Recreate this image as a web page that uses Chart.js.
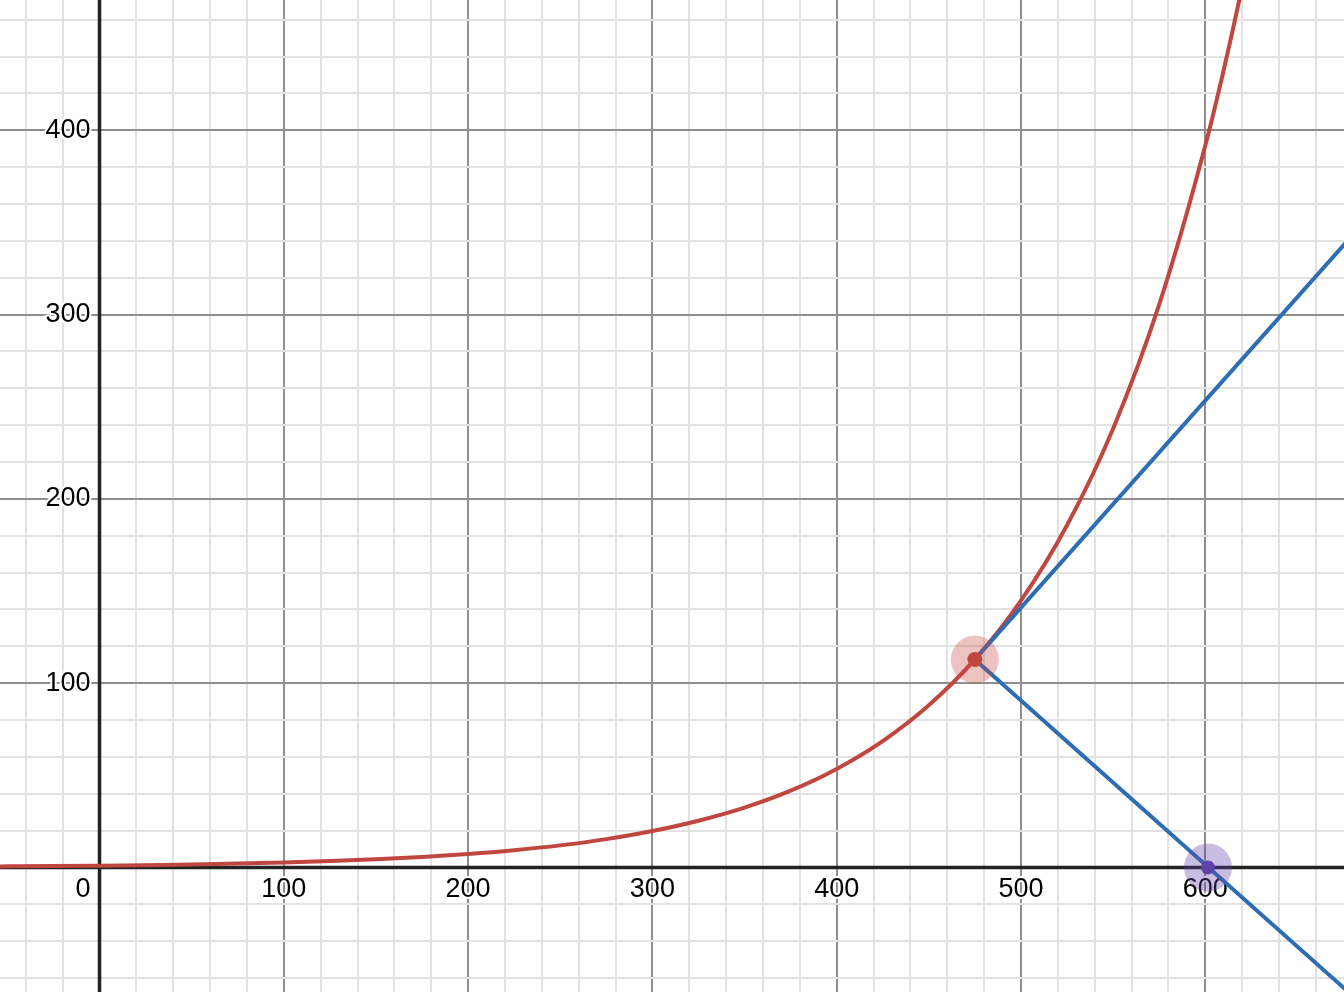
<!DOCTYPE html>
<html>
<head>
<meta charset="utf-8">
<script src="https://cdn.jsdelivr.net/npm/chart.js@4/dist/chart.umd.min.js"></script>
<style>
  html, body { margin: 0; padding: 0; background: #fff; }
  #wrap { width: 1344px; height: 992px; position: relative; }
</style>
</head>
<body>
<div id="wrap"><canvas id="c"></canvas></div>
<script>
// Curve values (red exponential curve)
const curveX = [-60, -25, 0, 25, 50, 75, 100, 125, 150, 175, 200, 225, 250, 275, 300, 325, 350, 375, 400, 425, 450, 475, 500, 525, 550, 575, 600, 610, 620, 630];
const curveY = [0.55, 0.78, 1, 1.28, 1.64, 2.11, 2.70, 3.47, 4.45, 5.70, 7.32, 9.38, 12.0, 15.4, 19.8, 25.4, 32.5, 41.7, 53.5, 68.6, 88.0, 112.9, 144.8, 185.7, 238.1, 305.4, 391.6, 432.6, 477.9, 527.9];
// Blue tangent and normal segments
const tangentX = [475, 680];
const tangentY = [112.9, 343.2];
const normalX = [475, 680];
const normalY = [112.9, -69.6];
// Marked points
const redPointX = [475];
const redPointY = [112.9];
const purplePointX = [601.5];
const purplePointY = [0];
// Tick labels
const xTickLabels = [100, 200, 300, 400, 500, 600];
const yTickLabels = [100, 200, 300, 400];
const originLabel = "0";
// Visible window
const xRange = [-54.0, 675.3];
const yRange = [-67.55, 470.7];

const zip = (xs, ys) => xs.map((x, i) => ({x: x, y: ys[i]}));

const RED = '#c0473f';
const BLUE = '#2f6db3';
const PURPLE = '#6042a6';

const labelPlugin = {
  id: 'desmosLabels',
  beforeDatasetsDraw(chart) {
    const {ctx, chartArea, scales} = chart;
    const xs = scales.x, ys = scales.y;
    const x0 = xs.getPixelForValue(0);
    const y0 = ys.getPixelForValue(0);
    ctx.save();
    // axes
    ctx.strokeStyle = '#222';
    ctx.lineWidth = 3.5;
    ctx.beginPath();
    ctx.moveTo(x0, chartArea.top); ctx.lineTo(x0, chartArea.bottom);
    ctx.moveTo(chartArea.left, y0); ctx.lineTo(chartArea.right, y0);
    ctx.stroke();
    // labels
    ctx.font = '27px "Liberation Sans", Arial, sans-serif';
    ctx.lineJoin = 'round';
    ctx.textBaseline = 'middle';
    const draw = (t, x, y) => {
      ctx.strokeStyle = '#fff';
      ctx.lineWidth = 4;
      ctx.strokeText(t, x, y);
      ctx.fillStyle = '#000';
      ctx.fillText(t, x, y);
    };
    ctx.textAlign = 'center';
    xTickLabels.forEach(v => draw(String(v), xs.getPixelForValue(v), y0 + 22));
    ctx.textAlign = 'right';
    yTickLabels.forEach(v => draw(String(v), x0 - 9, ys.getPixelForValue(v)));
    draw(originLabel, x0 - 9, y0 + 22);
    ctx.restore();
  }
};

const gridColor = (c) => {
  const v = c.tick ? c.tick.value : 0;
  const r = Math.abs(v % 100);
  return (r < 1e-6 || Math.abs(r - 100) < 1e-6) ? '#8e8e8e' : '#e2e2e2';
};

new Chart(document.getElementById('c'), {
  type: 'scatter',
  data: {
    datasets: [
      { data: zip(purplePointX, purplePointY), pointRadius: 7, pointBackgroundColor: PURPLE, pointBorderWidth: 0, showLine: false },
      { data: zip(purplePointX, purplePointY), pointRadius: 24, pointBackgroundColor: 'rgba(96,66,166,0.35)', pointBorderWidth: 0, showLine: false },
      { data: zip(redPointX, redPointY), pointRadius: 7.5, pointBackgroundColor: RED, pointBorderWidth: 0, showLine: false },
      { data: zip(redPointX, redPointY), pointRadius: 24, pointBackgroundColor: 'rgba(199,68,64,0.32)', pointBorderWidth: 0, showLine: false },
      { data: zip(tangentX, tangentY), showLine: true, borderColor: BLUE, borderWidth: 4, pointRadius: 0, fill: false },
      { data: zip(normalX, normalY), showLine: true, borderColor: BLUE, borderWidth: 4, pointRadius: 0, fill: false },
      { data: zip(curveX, curveY), showLine: true, borderColor: RED, borderWidth: 4, pointRadius: 0, fill: false, cubicInterpolationMode: 'monotone' }
    ]
  },
  options: {
    responsive: true,
    maintainAspectRatio: false,
    animation: false,
    layout: { padding: 0, autoPadding: false },
    plugins: { legend: { display: false }, tooltip: { enabled: false } },
    events: [],
    scales: {
      x: {
        type: 'linear', min: xRange[0], max: xRange[1],
        ticks: { display: false, stepSize: 20, includeBounds: false },
        grid: { color: gridColor, lineWidth: 2, drawTicks: false },
        border: { display: false }
      },
      y: {
        type: 'linear', min: yRange[0], max: yRange[1],
        ticks: { display: false, stepSize: 20, includeBounds: false },
        grid: { color: gridColor, lineWidth: 2, drawTicks: false },
        border: { display: false }
      }
    }
  },
  plugins: [labelPlugin]
});
</script>
</body>
</html>
